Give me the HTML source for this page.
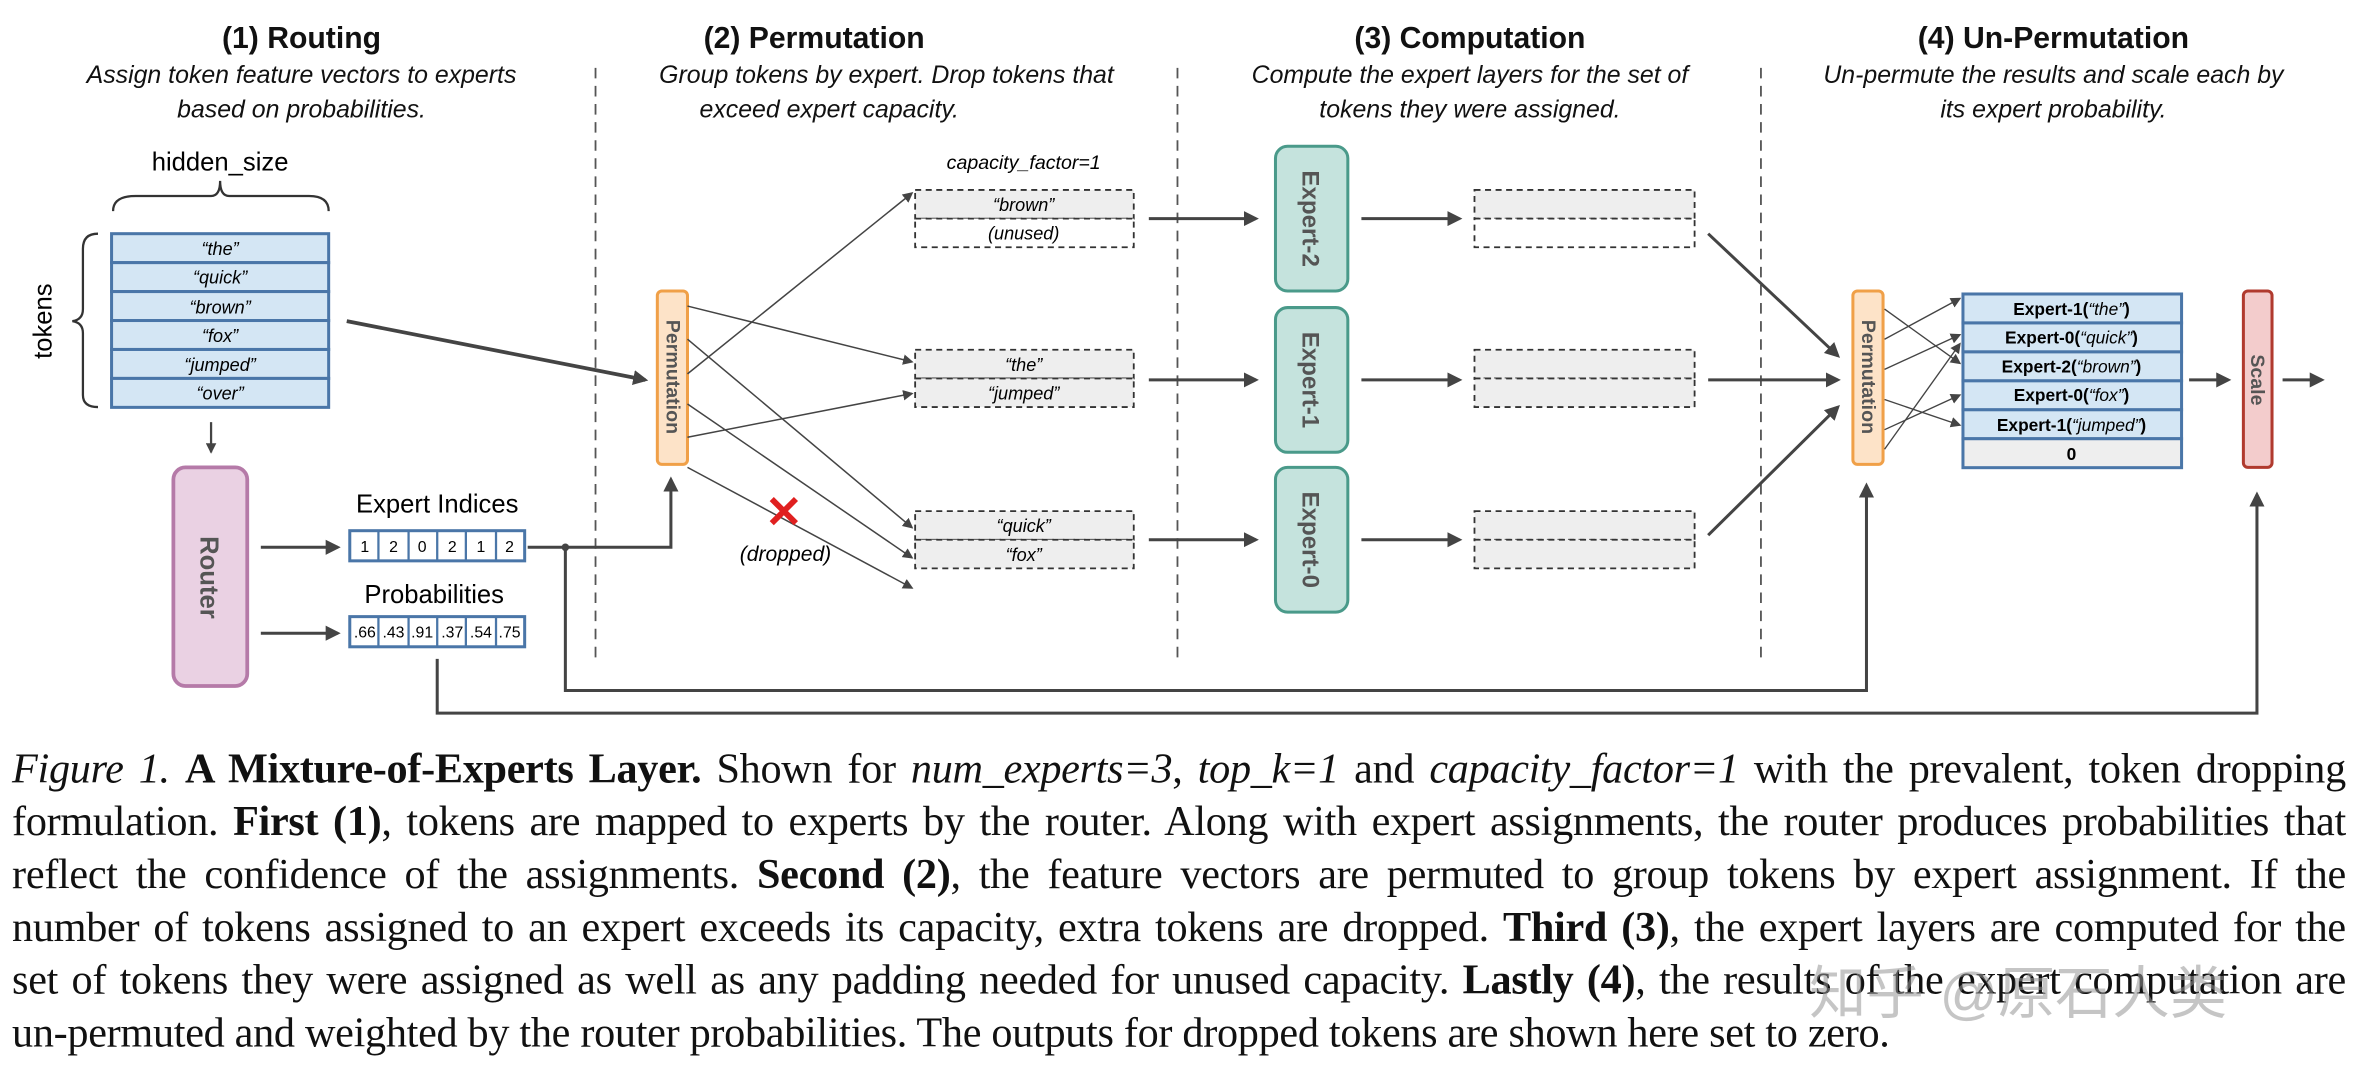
<!DOCTYPE html>
<html><head><meta charset="utf-8"><style>
html,body{margin:0;padding:0;background:#fff;}
#w{position:absolute;left:0;top:0;width:1568px;height:714px;transform:scale(1.50765);transform-origin:0 0;overflow:hidden;}
svg{position:absolute;left:0;top:0;}
.cap{position:absolute;left:8px;top:493px;width:1548px;font-family:"Liberation Serif",serif;font-size:28px;line-height:35px;color:#111;}
.cap div{white-space:nowrap;text-align:justify;text-align-last:justify;letter-spacing:-0.2px;}
.cap div.l{text-align-last:left;}
.wm{position:absolute;left:1200px;top:628px;font-family:"Liberation Sans","Noto Sans CJK SC",sans-serif;font-size:38px;color:rgba(150,150,150,0.55);}
</style></head><body><div id="w">
<svg width="1568" height="714" viewBox="0 0 1568 714" font-family="Liberation Sans, sans-serif">
<defs><marker id="a" markerWidth="10" markerHeight="10" refX="8" refY="5" orient="auto" markerUnits="userSpaceOnUse"><path d="M0,0 L10,5 L0,10 z" fill="#444"/></marker>
<marker id="s" markerWidth="7" markerHeight="7" refX="6" refY="3.5" orient="auto" markerUnits="userSpaceOnUse"><path d="M0,0 L7,3.5 L0,7 z" fill="#444"/></marker></defs>
<g text-anchor="middle" fill="#111">
<text x="200" y="32" font-size="20" font-weight="bold">(1) Routing</text>
<text x="540" y="32" font-size="20" font-weight="bold">(2) Permutation</text>
<text x="975" y="32" font-size="20" font-weight="bold">(3) Computation</text>
<text x="1362" y="32" font-size="20" font-weight="bold">(4) Un-Permutation</text>
<g font-size="16.5" font-style="italic">
<text x="200" y="55">Assign token feature vectors to experts</text><text x="200" y="78">based on probabilities.</text>
<text x="588" y="55">Group tokens by expert. Drop tokens that</text><text x="550" y="78">exceed expert capacity.</text>
<text x="975" y="55">Compute the expert layers for the set of</text><text x="975" y="78">tokens they were assigned.</text>
<text x="1362" y="55">Un-permute the results and scale each by</text><text x="1362" y="78">its expert probability.</text>
</g></g>
<g stroke="#555" stroke-width="1.2" stroke-dasharray="7,5"><line x1="395" y1="45" x2="395" y2="440"/><line x1="781" y1="45" x2="781" y2="440"/><line x1="1168" y1="45" x2="1168" y2="440"/></g>
<text x="146" y="113" font-size="17" text-anchor="middle">hidden_size</text>
<path d="M75,140 Q75,130 90,130 L140,130 Q146,130 146,120 Q146,130 152,130 L205,130 Q218,130 218,140" fill="none" stroke="#333" stroke-width="1.5"/>
<text transform="translate(34,213) rotate(-90)" font-size="17" text-anchor="middle">tokens</text>
<path d="M65,155 Q55,155 55,165 L55,205 Q55,212 48,213 Q55,214 55,221 L55,262 Q55,270 65,270" fill="none" stroke="#333" stroke-width="1.5"/>
<g fill="#d4e6f4" stroke="#4a76a8" stroke-width="2">
<rect x="74" y="155" width="144" height="19.2"/><rect x="74" y="174.2" width="144" height="19.2"/><rect x="74" y="193.4" width="144" height="19.2"/><rect x="74" y="212.6" width="144" height="19.2"/><rect x="74" y="231.8" width="144" height="19.2"/><rect x="74" y="251" width="144" height="19.2"/></g>
<g font-size="12" font-style="italic" text-anchor="middle"><text x="146" y="169">“the”</text><text x="146" y="188">“quick”</text><text x="146" y="208">“brown”</text><text x="146" y="227">“fox”</text><text x="146" y="246">“jumped”</text><text x="146" y="265">“over”</text></g>
<line x1="140" y1="280" x2="140" y2="300" stroke="#444" stroke-width="1.5" marker-end="url(#s)"/>
<rect x="115" y="310" width="49" height="145" rx="8" fill="#ead1e3" stroke="#b57aa8" stroke-width="2.5"/>
<text transform="translate(133,383) rotate(90)" font-size="17" font-weight="bold" fill="#555" text-anchor="middle">Router</text>
<g stroke="#444" stroke-width="2" fill="none">
<line x1="173" y1="363" x2="224" y2="363" marker-end="url(#a)"/><line x1="173" y1="420" x2="224" y2="420" marker-end="url(#a)"/>
<polyline points="350,363 445,363 445,318" marker-end="url(#a)"/>
<polyline points="375,363 375,458 1238,458 1238,322" marker-end="url(#a)"/>
<polyline points="290,437 290,473 1497,473 1497,328" marker-end="url(#a)"/>
<line x1="230" y1="213" x2="428" y2="252" stroke-width="2.5" marker-end="url(#a)"/>
</g>
<circle cx="375" cy="363" r="2.5" fill="#444"/>
<text x="290" y="340" font-size="17" text-anchor="middle">Expert Indices</text>
<text x="288" y="400" font-size="17" text-anchor="middle">Probabilities</text>
<g fill="#fff" stroke="#4a76a8" stroke-width="2">
<rect x="232" y="352" width="116" height="20"/><rect x="232" y="409" width="116" height="20"/></g>
<g stroke="#4a76a8" stroke-width="1.5"><path d="M251,352v20M271,352v20M290,352v20M309,352v20M329,352v20M251,409v20M271,409v20M290,409v20M309,409v20M329,409v20"/></g>
<g font-size="10.5" text-anchor="middle"><text x="242" y="366">1</text><text x="261" y="366">2</text><text x="280" y="366">0</text><text x="300" y="366">2</text><text x="319" y="366">1</text><text x="338" y="366">2</text>
<text x="242" y="423">.66</text><text x="261" y="423">.43</text><text x="280" y="423">.91</text><text x="300" y="423">.37</text><text x="319" y="423">.54</text><text x="338" y="423">.75</text></g>
<g fill="#fde3c8" stroke="#f0a048" stroke-width="2"><rect x="436" y="193" width="20" height="115" rx="3"/><rect x="1229" y="193" width="20" height="115" rx="3"/></g>
<g font-size="13" font-weight="bold" fill="#555" text-anchor="middle"><text transform="translate(442,250) rotate(90)">Permutation</text><text transform="translate(1235,250) rotate(90)">Permutation</text></g>
<text x="679" y="112" font-size="13" font-style="italic" text-anchor="middle">capacity_factor=1</text>
<g stroke="#333" stroke-width="1.2" stroke-dasharray="4,3">
<rect x="607" y="126" width="145" height="19" fill="#eee"/><rect x="607" y="145" width="145" height="19" fill="#fff"/>
<rect x="607" y="232" width="145" height="19" fill="#eee"/><rect x="607" y="251" width="145" height="19" fill="#eee"/>
<rect x="607" y="339" width="145" height="19" fill="#eee"/><rect x="607" y="358" width="145" height="19" fill="#eee"/>
<rect x="978" y="126" width="146" height="19" fill="#eee"/><rect x="978" y="145" width="146" height="19" fill="#fff"/>
<rect x="978" y="232" width="146" height="19" fill="#eee"/><rect x="978" y="251" width="146" height="19" fill="#eee"/>
<rect x="978" y="339" width="146" height="19" fill="#eee"/><rect x="978" y="358" width="146" height="19" fill="#eee"/></g>
<g font-size="12" font-style="italic" text-anchor="middle"><text x="679" y="140">“brown”</text><text x="679" y="159">(unused)</text><text x="679" y="246">“the”</text><text x="679" y="265">“jumped”</text><text x="679" y="353">“quick”</text><text x="679" y="372">“fox”</text></g>
<g stroke="#444" stroke-width="1" fill="none">
<line x1="456" y1="248" x2="605" y2="128" marker-end="url(#s)"/><line x1="456" y1="203" x2="605" y2="240" marker-end="url(#s)"/>
<line x1="456" y1="290" x2="605" y2="261" marker-end="url(#s)"/><line x1="456" y1="225" x2="605" y2="350" marker-end="url(#s)"/>
<line x1="456" y1="268" x2="605" y2="370" marker-end="url(#s)"/><line x1="456" y1="310" x2="605" y2="390" marker-end="url(#s)"/></g>
<text x="520" y="350" font-size="30" fill="#e02020" font-weight="bold" text-anchor="middle">✕</text>
<text x="521" y="372" font-size="14" font-style="italic" text-anchor="middle">(dropped)</text>
<g stroke="#444" stroke-width="2"><line x1="762" y1="145" x2="833" y2="145" marker-end="url(#a)"/><line x1="762" y1="252" x2="833" y2="252" marker-end="url(#a)"/><line x1="762" y1="358" x2="833" y2="358" marker-end="url(#a)"/>
<line x1="903" y1="145" x2="968" y2="145" marker-end="url(#a)"/><line x1="903" y1="252" x2="968" y2="252" marker-end="url(#a)"/><line x1="903" y1="358" x2="968" y2="358" marker-end="url(#a)"/>
<line x1="1133" y1="155" x2="1219" y2="236" marker-end="url(#a)"/><line x1="1133" y1="252" x2="1219" y2="252" marker-end="url(#a)"/><line x1="1133" y1="355" x2="1219" y2="270" marker-end="url(#a)"/>
<line x1="1452" y1="252" x2="1478" y2="252" marker-end="url(#a)"/><line x1="1514" y1="252" x2="1540" y2="252" marker-end="url(#a)"/></g>
<g fill="#c5e3dd" stroke="#4a9a8a" stroke-width="2"><rect x="846" y="97" width="48" height="96" rx="8"/><rect x="846" y="204" width="48" height="96" rx="8"/><rect x="846" y="310" width="48" height="96" rx="8"/></g>
<g font-size="16" font-weight="bold" fill="#555" text-anchor="middle"><text transform="translate(864,145) rotate(90)">Expert-2</text><text transform="translate(864,252) rotate(90)">Expert-1</text><text transform="translate(864,358) rotate(90)">Expert-0</text></g>
<g stroke="#444" stroke-width="0.9" fill="none">
<line x1="1250" y1="205" x2="1300" y2="241" marker-end="url(#s)"/><line x1="1250" y1="225" x2="1300" y2="198" marker-end="url(#s)"/>
<line x1="1250" y1="245" x2="1300" y2="222" marker-end="url(#s)"/><line x1="1250" y1="265" x2="1300" y2="282" marker-end="url(#s)"/>
<line x1="1250" y1="285" x2="1300" y2="262" marker-end="url(#s)"/><line x1="1250" y1="298" x2="1300" y2="228" marker-end="url(#s)"/></g>
<g fill="#d4e6f4" stroke="#4a76a8" stroke-width="2">
<rect x="1302" y="195" width="145" height="19.2"/><rect x="1302" y="214.2" width="145" height="19.2"/><rect x="1302" y="233.4" width="145" height="19.2"/><rect x="1302" y="252.6" width="145" height="19.2"/><rect x="1302" y="271.8" width="145" height="19.2"/><rect x="1302" y="291" width="145" height="19.2" fill="#eee"/></g>
<g font-size="11.5" font-weight="bold" text-anchor="middle"><text x="1374" y="209">Expert-1(<tspan font-style="italic" font-weight="normal">“the”</tspan>)</text><text x="1374" y="228">Expert-0(<tspan font-style="italic" font-weight="normal">“quick”</tspan>)</text><text x="1374" y="247">Expert-2(<tspan font-style="italic" font-weight="normal">“brown”</tspan>)</text><text x="1374" y="266">Expert-0(<tspan font-style="italic" font-weight="normal">“fox”</tspan>)</text><text x="1374" y="286">Expert-1(<tspan font-style="italic" font-weight="normal">“jumped”</tspan>)</text><text x="1374" y="305">0</text></g>
<rect x="1488" y="193" width="19" height="117" rx="3" fill="#f3cccc" stroke="#b03a2e" stroke-width="2"/>
<text transform="translate(1493,252) rotate(90)" font-size="13" font-weight="bold" fill="#555" text-anchor="middle">Scale</text>
</svg>
<div class="cap">
<div><i>Figure 1.</i> <b>A Mixture-of-Experts Layer.</b> Shown for <i>num_experts=3</i>, <i>top_k=1</i> and <i>capacity_factor=1</i> with the prevalent, token dropping</div>
<div>formulation. <b>First (1)</b>, tokens are mapped to experts by the router. Along with expert assignments, the router produces probabilities that</div>
<div>reflect the confidence of the assignments. <b>Second (2)</b>, the feature vectors are permuted to group tokens by expert assignment. If the</div>
<div>number of tokens assigned to an expert exceeds its capacity, extra tokens are dropped. <b>Third (3)</b>, the expert layers are computed for the</div>
<div>set of tokens they were assigned as well as any padding needed for unused capacity. <b>Lastly (4)</b>, the results of the expert computation are</div>
<div class="l">un-permuted and weighted by the router probabilities. The outputs for dropped tokens are shown here set to zero.</div>
</div>
<div class="wm">知乎 @原石人类</div>
</div></body></html>
